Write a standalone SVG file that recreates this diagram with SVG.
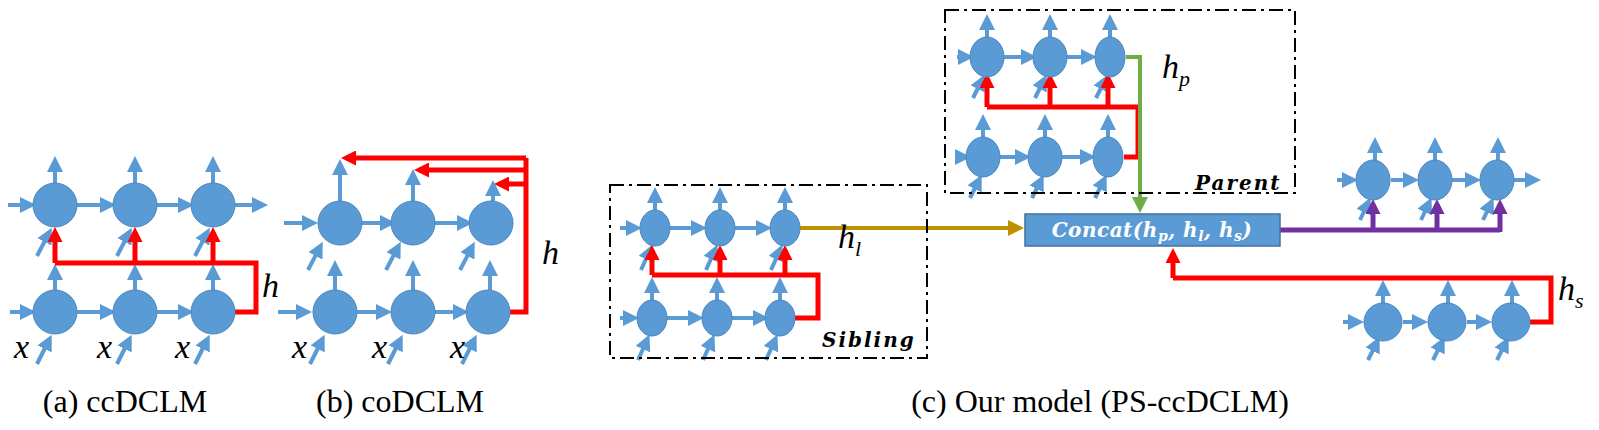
<svg xmlns="http://www.w3.org/2000/svg" width="1599" height="430" viewBox="0 0 1599 430">
<style>
.n{fill:#5b9bd5;stroke:#4a86be;stroke-width:1}
.b line{stroke:#5b9bd5;stroke-width:4;marker-end:url(#ab)}
.r{stroke:#ff0000;stroke-width:5;fill:none}
.ra line{stroke:#ff0000;stroke-width:5;marker-end:url(#ar)}
.pa line{stroke:#7030a0;stroke-width:5;marker-end:url(#ap)}
.box{fill:none;stroke:#000;stroke-width:2;stroke-dasharray:14 5 3 5}
.lab{font-family:'Liberation Serif',serif;font-style:italic;font-size:34px}
.cap{font-family:'Liberation Serif',serif;font-size:32px}
.bl{font-family:'DejaVu Serif',serif;font-style:italic;font-weight:bold;font-size:20px;letter-spacing:2px}
</style>
<defs>
<marker id="ab" markerWidth="4" markerHeight="4" refX="2.5" refY="2" orient="auto"><path d="M0,0L4,2L0,4z" fill="#5b9bd5"/></marker>
<marker id="ar" markerWidth="3" markerHeight="3" refX="2" refY="1.5" orient="auto"><path d="M0,0L3,1.5L0,3z" fill="#ff0000"/></marker>
<marker id="ag" markerWidth="4" markerHeight="4" refX="2.5" refY="2" orient="auto"><path d="M0,0L4,2L0,4z" fill="#70ad47"/></marker>
<marker id="ay" markerWidth="4" markerHeight="4" refX="2.5" refY="2" orient="auto"><path d="M0,0L4,2L0,4z" fill="#bf9000"/></marker>
<marker id="ap" markerWidth="3" markerHeight="3" refX="2" refY="1.5" orient="auto"><path d="M0,0L3,1.5L0,3z" fill="#7030a0"/></marker>
</defs>

<g id="connectors">
<g class="b">
<line x1="8" y1="205" x2="30" y2="205"/><line x1="77" y1="205" x2="110" y2="205"/><line x1="157" y1="205" x2="188" y2="205"/><line x1="235" y1="205" x2="262" y2="205"/>
<line x1="55" y1="183" x2="55" y2="162"/><line x1="135" y1="183" x2="135" y2="162"/><line x1="213" y1="183" x2="213" y2="162"/>
<line x1="37" y1="256" x2="49" y2="233"/><line x1="117" y1="256" x2="129" y2="233"/><line x1="195" y1="256" x2="207" y2="233"/>
<line x1="10" y1="312" x2="30" y2="312"/><line x1="77" y1="312" x2="110" y2="312"/><line x1="157" y1="312" x2="188" y2="312"/>
<line x1="55" y1="290" x2="55" y2="270"/><line x1="135" y1="290" x2="135" y2="270"/><line x1="213" y1="290" x2="213" y2="270"/>
<line x1="37" y1="364" x2="49" y2="340"/><line x1="117" y1="364" x2="129" y2="340"/><line x1="195" y1="364" x2="207" y2="340"/>
</g>
<path class="r" d="M235,312H256V263H55"/>
<g class="ra"><line x1="55" y1="263" x2="55" y2="232"/><line x1="135" y1="263" x2="135" y2="232"/><line x1="213" y1="263" x2="213" y2="232"/></g>
<g class="b">
<line x1="284" y1="223" x2="312" y2="223"/><line x1="362" y1="223" x2="390" y2="223"/><line x1="435" y1="223" x2="467" y2="223"/>
<line x1="340" y1="201" x2="340" y2="165"/><line x1="413" y1="201" x2="413" y2="175"/><line x1="493" y1="201" x2="493" y2="186"/>
<line x1="308" y1="270" x2="320" y2="247"/><line x1="386" y1="270" x2="398" y2="247"/><line x1="460" y1="270" x2="472" y2="247"/>
<line x1="278" y1="312" x2="306" y2="312"/><line x1="357" y1="312" x2="386" y2="312"/><line x1="435" y1="312" x2="463" y2="312"/>
<line x1="335" y1="290" x2="335" y2="266"/><line x1="413" y1="290" x2="413" y2="266"/><line x1="490" y1="290" x2="490" y2="266"/>
<line x1="310" y1="364" x2="322" y2="340"/><line x1="388" y1="364" x2="400" y2="340"/><line x1="462" y1="364" x2="474" y2="340"/>
</g>
<path class="r" d="M510,312H526V158"/>
<g class="ra"><line x1="526" y1="158" x2="346" y2="158"/><line x1="526" y1="170" x2="419" y2="170"/><line x1="526" y1="184" x2="499" y2="184"/></g>
<g class="b">
<line x1="620" y1="228" x2="636" y2="228"/><line x1="670" y1="228" x2="701" y2="228"/><line x1="735" y1="228" x2="766" y2="228"/>
<line x1="655" y1="210" x2="655" y2="193"/><line x1="720" y1="210" x2="720" y2="193"/><line x1="785" y1="210" x2="785" y2="193"/>
<line x1="641" y1="270" x2="650" y2="250"/><line x1="706" y1="270" x2="715" y2="250"/><line x1="771" y1="270" x2="780" y2="250"/>
<line x1="620" y1="318" x2="633" y2="318"/><line x1="667" y1="318" x2="698" y2="318"/><line x1="732" y1="318" x2="763" y2="318"/>
<line x1="652" y1="300" x2="652" y2="283"/><line x1="717" y1="300" x2="717" y2="283"/><line x1="780" y1="300" x2="780" y2="283"/>
<line x1="638" y1="360" x2="647" y2="340"/><line x1="703" y1="360" x2="712" y2="340"/><line x1="766" y1="360" x2="775" y2="340"/>
</g>
<path class="r" d="M795,318H818V275H652"/>
<g class="ra"><line x1="652" y1="275" x2="652" y2="250"/><line x1="720" y1="275" x2="720" y2="250"/><line x1="785" y1="275" x2="785" y2="250"/></g>
<path d="M800,228H1018" stroke="#bf9000" stroke-width="4" marker-end="url(#ay)"/>
<g class="b">
<line x1="957" y1="57" x2="968" y2="57"/><line x1="1003" y1="57" x2="1031" y2="57"/><line x1="1067" y1="57" x2="1091" y2="57"/>
<line x1="987" y1="39" x2="987" y2="20"/><line x1="1050" y1="39" x2="1050" y2="20"/><line x1="1110" y1="39" x2="1110" y2="20"/>
<line x1="973" y1="98" x2="982" y2="80"/><line x1="1035" y1="98" x2="1044" y2="80"/><line x1="1096" y1="98" x2="1105" y2="80"/>
<line x1="957" y1="157" x2="965" y2="157"/><line x1="1000" y1="157" x2="1025" y2="157"/><line x1="1062" y1="157" x2="1090" y2="157"/>
<line x1="983" y1="139" x2="983" y2="120"/><line x1="1045" y1="139" x2="1045" y2="120"/><line x1="1108" y1="139" x2="1108" y2="120"/>
<line x1="970" y1="198" x2="979" y2="180"/><line x1="1032" y1="198" x2="1041" y2="180"/><line x1="1095" y1="198" x2="1104" y2="180"/>
</g>
<path class="r" d="M1124,157H1138V107H987"/>
<g class="ra"><line x1="987" y1="107" x2="987" y2="78"/><line x1="1050" y1="107" x2="1050" y2="78"/><line x1="1108" y1="107" x2="1108" y2="78"/></g>
<path d="M1126,57H1140V207" stroke="#70ad47" stroke-width="4" fill="none" marker-end="url(#ag)"/>
<g class="b">
<line x1="1337" y1="180" x2="1352" y2="180"/><line x1="1391" y1="180" x2="1413" y2="180"/><line x1="1451" y1="180" x2="1475" y2="180"/><line x1="1513" y1="180" x2="1535" y2="180"/>
<line x1="1375" y1="162" x2="1375" y2="143"/><line x1="1435" y1="162" x2="1435" y2="143"/><line x1="1498" y1="162" x2="1498" y2="143"/>
<line x1="1360" y1="220" x2="1368" y2="203"/><line x1="1421" y1="220" x2="1429" y2="203"/><line x1="1483" y1="220" x2="1491" y2="203"/>
</g>
<path d="M1280,230H1500" stroke="#7030a0" stroke-width="5" fill="none"/>
<g class="pa"><line x1="1373" y1="230" x2="1373" y2="204"/><line x1="1437" y1="230" x2="1437" y2="204"/><line x1="1500" y1="232" x2="1500" y2="204"/></g>
<g class="b">
<line x1="1343" y1="322" x2="1358" y2="322"/><line x1="1403" y1="322" x2="1422" y2="322"/><line x1="1467" y1="322" x2="1486" y2="322"/>
<line x1="1383" y1="303" x2="1383" y2="286"/><line x1="1448" y1="303" x2="1448" y2="286"/><line x1="1512" y1="303" x2="1512" y2="286"/>
<line x1="1368" y1="360" x2="1377" y2="342"/><line x1="1433" y1="360" x2="1442" y2="342"/><line x1="1497" y1="360" x2="1506" y2="342"/>
</g>
<path class="r" d="M1530,322H1551V278H1173"/>
<g class="ra"><line x1="1173" y1="278" x2="1173" y2="253"/></g>
</g>

<g id="nodes-a"><circle class="n" cx="55" cy="205" r="22"/><circle class="n" cx="135" cy="205" r="22"/><circle class="n" cx="213" cy="205" r="22"/><circle class="n" cx="55" cy="312" r="22"/><circle class="n" cx="135" cy="312" r="22"/><circle class="n" cx="213" cy="312" r="22"/></g>
<g id="nodes-b"><circle class="n" cx="340" cy="223" r="22"/><circle class="n" cx="413" cy="223" r="22"/><circle class="n" cx="491" cy="223" r="22"/><circle class="n" cx="335" cy="312" r="22"/><circle class="n" cx="413" cy="312" r="22"/><circle class="n" cx="488" cy="312" r="22"/></g>
<g id="sibling"><rect class="box" x="610" y="185" width="317" height="173"/>
<ellipse class="n" cx="655" cy="228" rx="15" ry="18"/><ellipse class="n" cx="720" cy="228" rx="15" ry="18"/><ellipse class="n" cx="785" cy="228" rx="15" ry="18"/>
<ellipse class="n" cx="652" cy="318" rx="15" ry="18"/><ellipse class="n" cx="717" cy="318" rx="15" ry="18"/><ellipse class="n" cx="780" cy="318" rx="15" ry="18"/>
<text class="bl" x="822" y="347">Sibling</text></g>
<g id="parent"><rect class="box" x="945" y="10" width="350" height="183"/>
<ellipse class="n" cx="987" cy="57" rx="17" ry="20"/><ellipse class="n" cx="1050" cy="57" rx="17" ry="20"/><ellipse class="n" cx="1110" cy="57" rx="15" ry="20"/>
<ellipse class="n" cx="983" cy="157" rx="17" ry="20"/><ellipse class="n" cx="1045" cy="157" rx="17" ry="20"/><ellipse class="n" cx="1108" cy="157" rx="15" ry="20"/>
<text class="bl" x="1195" y="190">Parent</text></g>
<g id="concat"><rect x="1025" y="214" width="255" height="32" fill="#5b9bd5" stroke="#41719c" stroke-width="1.5"/>
<text x="1152" y="237" text-anchor="middle" fill="#fff" class="bl" style="letter-spacing:0.5px">Concat(h<tspan font-size="14" dy="4">p</tspan><tspan dy="-4">, h</tspan><tspan font-size="14" dy="4">l</tspan><tspan dy="-4">, h</tspan><tspan font-size="14" dy="4">s</tspan><tspan dy="-4">)</tspan></text></g>
<g id="output"><ellipse class="n" cx="1373" cy="180" rx="17" ry="20"/><ellipse class="n" cx="1435" cy="180" rx="17" ry="20"/><ellipse class="n" cx="1497" cy="180" rx="17" ry="20"/></g>
<g id="siblings-r"><ellipse class="n" cx="1383" cy="322" rx="19" ry="19"/><ellipse class="n" cx="1447" cy="322" rx="19" ry="19"/><ellipse class="n" cx="1511" cy="322" rx="19" ry="19"/></g>
<g id="labels">
<text class="lab" x="262" y="297">h</text>
<text class="lab" x="542" y="264">h</text>
<text class="lab" x="838" y="248">h<tspan font-size="22" dy="8">l</tspan></text>
<text class="lab" x="1162" y="78">h<tspan font-size="22" dy="8">p</tspan></text>
<text class="lab" x="1558" y="300">h<tspan font-size="22" dy="8">s</tspan></text>
<text class="lab" x="14" y="358">x</text><text class="lab" x="97" y="358">x</text><text class="lab" x="175" y="358">x</text>
<text class="lab" x="292" y="358">x</text><text class="lab" x="372" y="358">x</text><text class="lab" x="450" y="358">x</text>
<text class="cap" x="125" y="412" text-anchor="middle">(a) ccDCLM</text>
<text class="cap" x="400" y="412" text-anchor="middle">(b) coDCLM</text>
<text class="cap" x="1100" y="412" text-anchor="middle">(c) Our model (PS-ccDCLM)</text>
</g>
</svg>
